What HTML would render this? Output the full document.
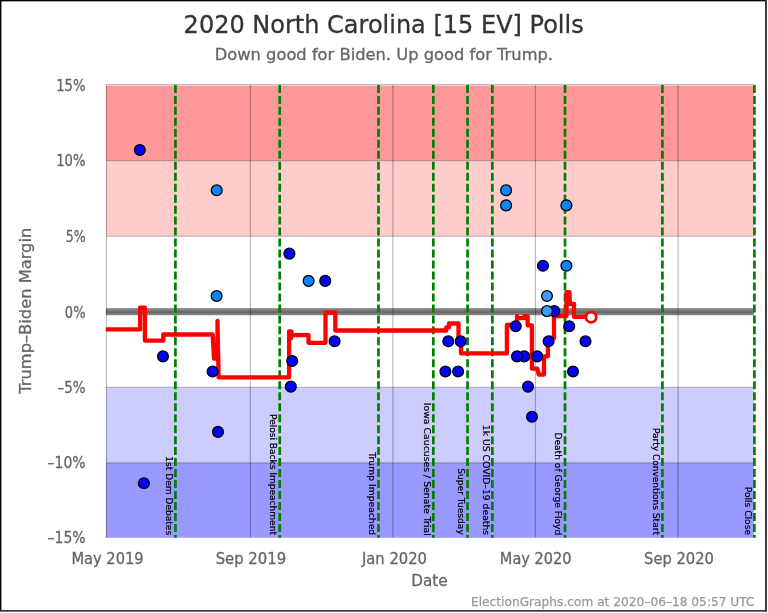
<!DOCTYPE html>
<html lang="en"><head><meta charset="utf-8"><title>2020 North Carolina [15 EV] Polls</title>
<style>html,body{margin:0;padding:0;background:#fff;}body{width:768px;height:613px;overflow:hidden;}svg{display:block;}text{font-family:"DejaVu Sans","Liberation Sans",sans-serif;}text.c{font-family:"DejaVu Sans Condensed","DejaVu Sans","Liberation Sans",sans-serif;}</style>
</head><body>
<svg width="768" height="613" viewBox="0 0 768 613">
<rect x="0" y="0" width="768" height="613" fill="#fff"/>
<rect x="0" y="0" width="767" height="1.35" fill="#000"/>
<rect x="0" y="0" width="1.4" height="611.6" fill="#000"/>
<rect x="765.0" y="0" width="2.0" height="611.7" fill="#3a3a3a"/>
<rect x="0" y="610.0" width="767" height="1.7" fill="#3a3a3a"/>
<text x="183.61" y="32.70" font-size="24.20" fill="#333" stroke="#333" stroke-width="0.30" textLength="400.09" lengthAdjust="spacingAndGlyphs">2020 North Carolina [15 EV] Polls</text>
<text x="214.74" y="59.80" font-size="15.40" fill="#666" stroke="#666" stroke-width="0.30" textLength="338.30" lengthAdjust="spacingAndGlyphs">Down good for Biden. Up good for Trump.</text>
<defs><clipPath id="pc"><rect x="105.60" y="83.8" width="650.60" height="453.95"/></clipPath></defs>
<g clip-path="url(#pc)">
<rect x="105.80" y="85.48" width="648.00" height="75.17" fill="#FF9999"/>
<rect x="105.80" y="160.65" width="648.00" height="75.55" fill="#FFCCCC"/>
<rect x="105.80" y="387.30" width="648.00" height="75.55" fill="#CCCCFF"/>
<rect x="105.80" y="462.85" width="648.00" height="78.57" fill="#9999FF"/>
<line x1="106.40" y1="84" x2="106.40" y2="537.75" stroke="#000" stroke-opacity="0.26" stroke-width="1.3"/>
<line x1="250.40" y1="84" x2="250.40" y2="537.75" stroke="#000" stroke-opacity="0.26" stroke-width="1.3"/>
<line x1="392.90" y1="84" x2="392.90" y2="537.75" stroke="#000" stroke-opacity="0.26" stroke-width="1.3"/>
<line x1="535.40" y1="84" x2="535.40" y2="537.75" stroke="#000" stroke-opacity="0.26" stroke-width="1.3"/>
<line x1="678.10" y1="84" x2="678.10" y2="537.75" stroke="#000" stroke-opacity="0.26" stroke-width="1.3"/>
<line x1="105.80" y1="160.65" x2="753.80" y2="160.65" stroke="#000" stroke-opacity="0.26" stroke-width="1.1"/>
<line x1="105.80" y1="236.20" x2="753.80" y2="236.20" stroke="#000" stroke-opacity="0.26" stroke-width="1.1"/>
<line x1="105.80" y1="387.30" x2="753.80" y2="387.30" stroke="#000" stroke-opacity="0.26" stroke-width="1.1"/>
<line x1="105.80" y1="462.85" x2="753.80" y2="462.85" stroke="#000" stroke-opacity="0.26" stroke-width="1.1"/>
<rect x="105.80" y="83.7" width="648.00" height="1.35" fill="#BEBEBE"/>
<rect x="105.80" y="308.2" width="648.00" height="7.0" fill="#000" fill-opacity="0.5"/>
<rect x="105.80" y="311.0" width="648.00" height="2.2" fill="#000" fill-opacity="0.165"/>
</g>
<line x1="175.40" y1="84.9" x2="175.40" y2="537.75" stroke="#008000" stroke-width="2.7" stroke-dasharray="8 2.976"/>
<line x1="279.70" y1="84.9" x2="279.70" y2="537.75" stroke="#008000" stroke-width="2.7" stroke-dasharray="8 2.976"/>
<line x1="378.50" y1="84.9" x2="378.50" y2="537.75" stroke="#008000" stroke-width="2.7" stroke-dasharray="8 2.976"/>
<line x1="433.35" y1="84.9" x2="433.35" y2="537.75" stroke="#008000" stroke-width="2.7" stroke-dasharray="8 2.976"/>
<line x1="467.55" y1="84.9" x2="467.55" y2="537.75" stroke="#008000" stroke-width="2.7" stroke-dasharray="8 2.976"/>
<line x1="492.35" y1="84.9" x2="492.35" y2="537.75" stroke="#008000" stroke-width="2.7" stroke-dasharray="8 2.976"/>
<line x1="565.00" y1="84.9" x2="565.00" y2="537.75" stroke="#008000" stroke-width="2.7" stroke-dasharray="8 2.976"/>
<line x1="662.40" y1="84.9" x2="662.40" y2="537.75" stroke="#008000" stroke-width="2.7" stroke-dasharray="8 2.976"/>
<line x1="754.40" y1="84.9" x2="754.40" y2="537.75" stroke="#008000" stroke-width="2.7" stroke-dasharray="8 2.976"/>
<text transform="translate(166.00,457.20) rotate(90)" x="-0.95" y="0" font-size="9.50" fill="#000" stroke="#000" stroke-width="0.20" textLength="78.91" lengthAdjust="spacingAndGlyphs">1st Dem Debates</text>
<text transform="translate(270.00,414.00) rotate(90)" x="0.00" y="0" font-size="9.50" fill="#000" stroke="#000" stroke-width="0.20" textLength="120.94" lengthAdjust="spacingAndGlyphs">Pelosi Backs Impeachment</text>
<text transform="translate(369.00,451.30) rotate(90)" x="0.97" y="0" font-size="9.50" fill="#000" stroke="#000" stroke-width="0.20" textLength="82.96" lengthAdjust="spacingAndGlyphs">Trump Impeached</text>
<text transform="translate(424.00,402.80) rotate(90)" x="0.00" y="0" font-size="9.50" fill="#000" stroke="#000" stroke-width="0.20" textLength="133.03" lengthAdjust="spacingAndGlyphs">Iowa Caucuses / Senate Trial</text>
<text transform="translate(458.00,468.20) rotate(90)" x="0.00" y="0" font-size="9.50" fill="#000" stroke="#000" stroke-width="0.20" textLength="66.64" lengthAdjust="spacingAndGlyphs">Super Tuesday</text>
<text transform="translate(483.00,425.80) rotate(90)" x="-0.97" y="0" font-size="9.50" fill="#000" stroke="#000" stroke-width="0.20" textLength="110.32" lengthAdjust="spacingAndGlyphs">1k US COVID–19 deaths</text>
<text transform="translate(555.00,432.40) rotate(90)" x="0.00" y="0" font-size="9.50" fill="#000" stroke="#000" stroke-width="0.20" textLength="102.83" lengthAdjust="spacingAndGlyphs">Death of George Floyd</text>
<text transform="translate(653.00,427.90) rotate(90)" x="0.00" y="0" font-size="9.50" fill="#000" stroke="#000" stroke-width="0.20" textLength="107.04" lengthAdjust="spacingAndGlyphs">Party Conventions Start</text>
<text transform="translate(745.00,486.80) rotate(90)" x="0.00" y="0" font-size="9.50" fill="#000" stroke="#000" stroke-width="0.20" textLength="48.25" lengthAdjust="spacingAndGlyphs">Polls Close</text>
<path d="M105.8 329.4 H140.1 V307.6 H144.9 V340.6 H163.3 V334.5 H212.7 L214.0 358.7 H217.5 V321.0 L218.6 377.3 H289.1 V331.3 H291.3 V338.0 V335.2 H308.5 V342.8 H325.5 V312.7 H335.3 V330.5 H446.3 V327.4 H449.0 V323.5 H458.5 V338.0 L461.0 346.0 V353.4 H506.9 V325.0 H517.0 V316.2 V318.2 H524.3 V316.2 H527.6 V325.3 H531.9 V368.7 H537.4 L538.7 374.6 H544.0 V356.3 H547.9 V338.0 H554.0 V316.0 H566.5 V292.2 H569.4 L569.9 304.0 H574.0 V316.8 H591.1" fill="none" stroke="#FF0000" stroke-width="4.3" stroke-linejoin="round" stroke-linecap="butt"/>
<circle cx="139.8" cy="150.0" r="5.4" fill="#0000FF" stroke="#000" stroke-width="1.3"/>
<circle cx="143.9" cy="483.3" r="5.4" fill="#0000FF" stroke="#000" stroke-width="1.3"/>
<circle cx="163.0" cy="356.4" r="5.4" fill="#0000FF" stroke="#000" stroke-width="1.3"/>
<circle cx="216.7" cy="190.3" r="5.4" fill="#0A84FF" stroke="#000" stroke-width="1.3"/>
<circle cx="216.6" cy="296.0" r="5.4" fill="#0A84FF" stroke="#000" stroke-width="1.3"/>
<circle cx="212.6" cy="371.5" r="5.4" fill="#0000FF" stroke="#000" stroke-width="1.3"/>
<circle cx="218.0" cy="431.9" r="5.4" fill="#0000FF" stroke="#000" stroke-width="1.3"/>
<circle cx="289.4" cy="253.6" r="5.4" fill="#0000FF" stroke="#000" stroke-width="1.3"/>
<circle cx="292.2" cy="361.0" r="5.4" fill="#0000FF" stroke="#000" stroke-width="1.3"/>
<circle cx="290.8" cy="386.6" r="5.4" fill="#0000FF" stroke="#000" stroke-width="1.3"/>
<circle cx="308.6" cy="280.9" r="5.4" fill="#0A84FF" stroke="#000" stroke-width="1.3"/>
<circle cx="325.2" cy="280.9" r="5.4" fill="#0000FF" stroke="#000" stroke-width="1.3"/>
<circle cx="334.6" cy="341.3" r="5.4" fill="#0000FF" stroke="#000" stroke-width="1.3"/>
<circle cx="445.4" cy="371.5" r="5.4" fill="#0000FF" stroke="#000" stroke-width="1.3"/>
<circle cx="448.3" cy="341.3" r="5.4" fill="#0000FF" stroke="#000" stroke-width="1.3"/>
<circle cx="458.1" cy="371.5" r="5.4" fill="#0000FF" stroke="#000" stroke-width="1.3"/>
<circle cx="460.7" cy="341.3" r="5.4" fill="#0000FF" stroke="#000" stroke-width="1.3"/>
<circle cx="506.1" cy="190.3" r="5.4" fill="#0A84FF" stroke="#000" stroke-width="1.3"/>
<circle cx="506.1" cy="205.4" r="5.4" fill="#0A84FF" stroke="#000" stroke-width="1.3"/>
<circle cx="515.7" cy="326.2" r="5.4" fill="#0000FF" stroke="#000" stroke-width="1.3"/>
<circle cx="524.2" cy="356.4" r="5.4" fill="#0000FF" stroke="#000" stroke-width="1.3"/>
<circle cx="517.0" cy="356.4" r="5.4" fill="#0000FF" stroke="#000" stroke-width="1.3"/>
<circle cx="537.2" cy="356.4" r="5.4" fill="#0000FF" stroke="#000" stroke-width="1.3"/>
<circle cx="528.0" cy="386.6" r="5.4" fill="#0000FF" stroke="#000" stroke-width="1.3"/>
<circle cx="532.0" cy="416.8" r="5.4" fill="#0000FF" stroke="#000" stroke-width="1.3"/>
<circle cx="543.0" cy="265.8" r="5.4" fill="#0000FF" stroke="#000" stroke-width="1.3"/>
<circle cx="554.2" cy="311.1" r="5.4" fill="#0000FF" stroke="#000" stroke-width="1.3"/>
<circle cx="547.0" cy="296.0" r="5.4" fill="#3D9CF7" stroke="#000" stroke-width="1.3"/>
<circle cx="547.0" cy="311.1" r="5.4" fill="#3D9CF7" stroke="#000" stroke-width="1.3"/>
<circle cx="548.6" cy="341.3" r="5.4" fill="#0000FF" stroke="#000" stroke-width="1.3"/>
<circle cx="566.4" cy="205.4" r="5.4" fill="#0A84FF" stroke="#000" stroke-width="1.3"/>
<circle cx="566.4" cy="265.8" r="5.4" fill="#0A84FF" stroke="#000" stroke-width="1.3"/>
<circle cx="569.2" cy="326.2" r="5.4" fill="#0000FF" stroke="#000" stroke-width="1.3"/>
<circle cx="573.0" cy="371.5" r="5.4" fill="#0000FF" stroke="#000" stroke-width="1.3"/>
<circle cx="585.5" cy="341.3" r="5.4" fill="#0000FF" stroke="#000" stroke-width="1.3"/>
<circle cx="591.1" cy="317.2" r="5.15" fill="#fff" stroke="#FF0000" stroke-width="2.7"/>
<text x="56.23" y="90.65" font-size="15.20" fill="#666" stroke="#666" stroke-width="0.30" textLength="29.34" lengthAdjust="spacingAndGlyphs">15%</text>
<text x="56.23" y="166.20" font-size="15.20" fill="#666" stroke="#666" stroke-width="0.30" textLength="29.34" lengthAdjust="spacingAndGlyphs">10%</text>
<text x="65.67" y="241.75" font-size="15.20" fill="#666" stroke="#666" stroke-width="0.30" textLength="19.88" lengthAdjust="spacingAndGlyphs">5%</text>
<text x="64.84" y="317.95" font-size="15.20" fill="#666" stroke="#666" stroke-width="0.30" textLength="20.73" lengthAdjust="spacingAndGlyphs">0%</text>
<text x="57.60" y="392.85" font-size="15.20" fill="#666" stroke="#666" stroke-width="0.30" textLength="27.98" lengthAdjust="spacingAndGlyphs">–5%</text>
<text x="47.50" y="468.40" font-size="15.20" fill="#666" stroke="#666" stroke-width="0.30" textLength="38.10" lengthAdjust="spacingAndGlyphs">–10%</text>
<text x="47.50" y="543.45" font-size="15.20" fill="#666" stroke="#666" stroke-width="0.30" textLength="38.10" lengthAdjust="spacingAndGlyphs">–15%</text>
<text x="71.44" y="563.70" font-size="15.30" fill="#666" stroke="#666" stroke-width="0.30" textLength="72.16" lengthAdjust="spacingAndGlyphs">May 2019</text>
<text x="215.63" y="563.70" font-size="15.30" fill="#666" stroke="#666" stroke-width="0.30" textLength="70.58" lengthAdjust="spacingAndGlyphs">Sep 2019</text>
<text x="361.97" y="563.70" font-size="15.30" fill="#666" stroke="#666" stroke-width="0.30" textLength="65.04" lengthAdjust="spacingAndGlyphs">Jan 2020</text>
<text x="499.85" y="563.70" font-size="15.30" fill="#666" stroke="#666" stroke-width="0.30" textLength="71.75" lengthAdjust="spacingAndGlyphs">May 2020</text>
<text x="644.04" y="563.70" font-size="15.30" fill="#666" stroke="#666" stroke-width="0.30" textLength="69.97" lengthAdjust="spacingAndGlyphs">Sep 2020</text>
<text x="411.16" y="585.70" font-size="16.20" fill="#666" stroke="#666" stroke-width="0.30" textLength="36.40" lengthAdjust="spacingAndGlyphs">Date</text>
<text transform="translate(31.20,394.80) rotate(-90)" x="1.01" y="0" font-size="16.20" fill="#666" stroke="#666" stroke-width="0.30" textLength="166.06" lengthAdjust="spacingAndGlyphs">Trump–Biden Margin</text>
<text x="471.02" y="605.60" font-size="12.40" fill="#999" stroke="#999" stroke-width="0.25" textLength="283.52" lengthAdjust="spacingAndGlyphs">ElectionGraphs.com at 2020–06–18 05:57 UTC</text>
</svg>
</body></html>
